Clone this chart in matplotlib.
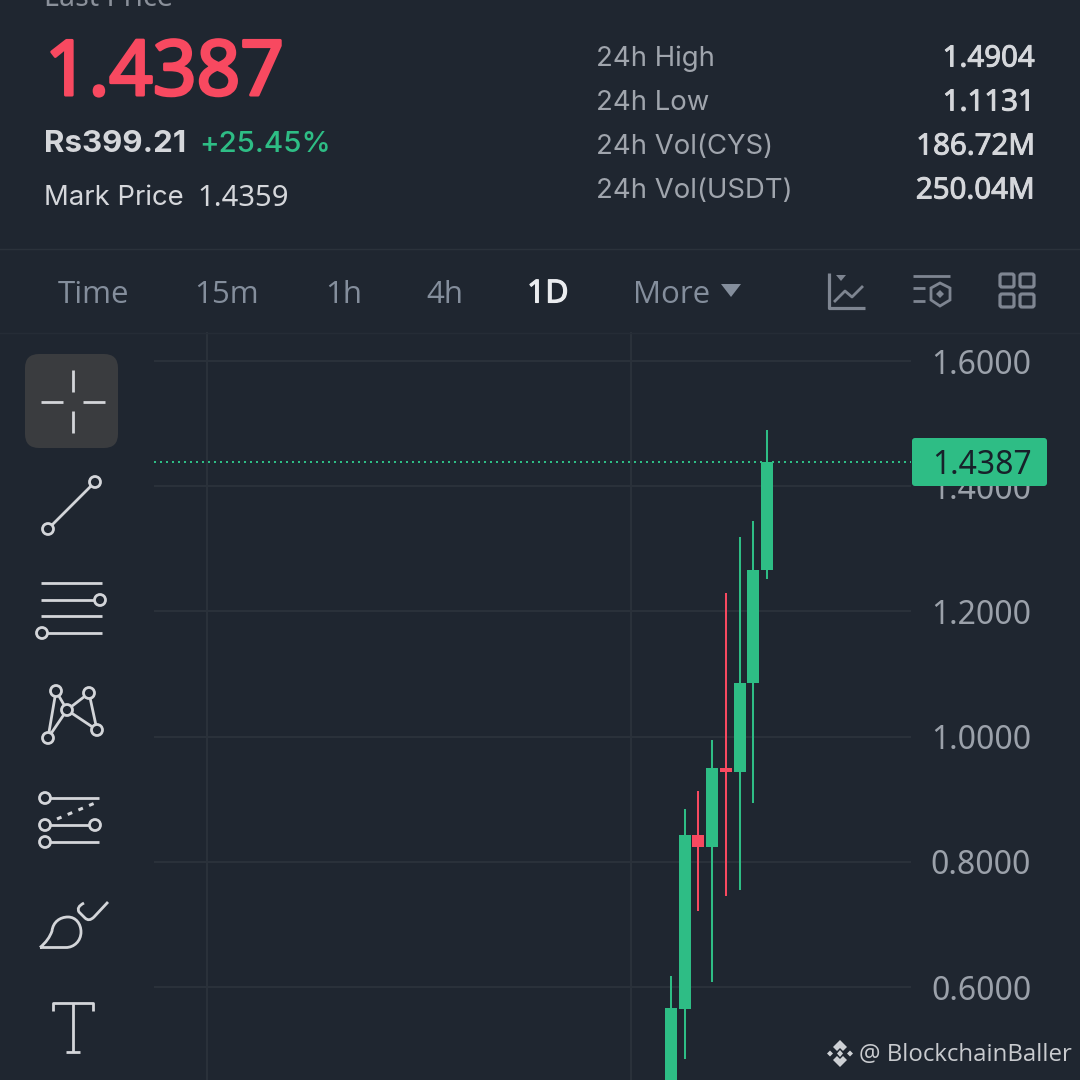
import matplotlib
matplotlib.use("Agg")
import matplotlib.pyplot as plt
import matplotlib.patheffects as pe
from matplotlib.patches import FancyBboxPatch, Circle, Polygon, PathPatch
from matplotlib.path import Path

BG = "#1F2630"; GREEN = "#2EBD85"; RED = "#F84960"; GRID = "#2B323B"
MUTED = "#848E9C"; LIGHT = "#D5D7DB"; WHITE = "#EAECEF"; ICON = "#D3D5D9"

# ---------- data ----------
day_index = [0, 1, 2, 3, 4, 5, 6, 7]
opens  = [0.4300, 0.5649, 0.8428, 0.8236, 0.9498, 0.9435, 1.0856, 1.2661]
closes = [0.5665, 0.8428, 0.8236, 0.9498, 0.9435, 1.0856, 1.2661, 1.4387]
highs  = [0.6176, 0.8843, 0.9131, 0.9946, 1.2294, 1.3188, 1.3444, 1.4904]
lows   = [0.4200, 0.4850, 0.7214, 0.6080, 0.7454, 0.7550, 0.8939, 1.2518]
y_ticks = [0.6, 0.8, 1.0, 1.2, 1.4, 1.6]
month_lines = [-33.84, -2.92]
last_price = 1.4387
tabs = ["Time", "15m", "1h", "4h", "1D", "More"]
stat_names = ["24h High", "24h Low", "24h Vol(CYS)", "24h Vol(USDT)"]
stat_values = ["1.4904", "1.1131", "186.72M", "250.04M"]

plt.rcParams["font.family"] = ["Noto Sans", "DejaVu Sans"]
fig = plt.figure(figsize=(10.8, 10.8), dpi=100, facecolor=BG)

# ---------- chart axes (pixel box 154..911 x 332..1080) ----------
W = 1080.0
ax = fig.add_axes([154 / W, 0, (911 - 154) / W, (1080 - 332) / W], zorder=1)
ax.set_facecolor(BG)
step = 13.71
ax.set_xlim((154 - 671) / step, (911 - 671) / step)
ax.set_ylim(1.6 - (1080 - 361) / 626.0, 1.6 + (361 - 332) / 626.0)
for s in ax.spines.values():
    s.set_visible(False)
ax.set_xticks([])
ax.set_yticks(y_ticks)
ax.set_yticklabels([f"{v:.4f}" for v in y_ticks], fontsize=23, color="#9BA1AA", ha="right")
ax.tick_params(axis="y", length=0, right=True, left=False, labelright=True, labelleft=False, pad=86.5)
for v in y_ticks:
    ax.axhline(v, color=GRID, lw=1.4, zorder=1)
for v in month_lines:
    ax.axvline(v, color=GRID, lw=1.4, zorder=1)
ax.axhline(last_price, color=GREEN, lw=1.44, ls=(0, (1, 2)), zorder=2)

for d, o, c, h, l in zip(day_index, opens, closes, highs, lows):
    col = GREEN if c >= o else RED
    ax.vlines(d, l, h, color=col, lw=1.45, zorder=3)
    ax.bar(d, abs(c - o), bottom=min(o, c), width=12 / step, color=col, zorder=4, linewidth=0)

# ---------- overlay in pixel coordinates ----------
ov = fig.add_axes([0, 0, 1, 1], zorder=2)
ov.set_xlim(0, 1080); ov.set_ylim(1080, 0); ov.axis("off"); ov.patch.set_alpha(0)

def T(x, y, s, size, color, ha="left", weight="normal", family="Noto Sans", stroke=0):
    t = ov.text(x, y, s, fontsize=size, color=color, ha=ha, va="center", fontweight=weight, family=family)
    if stroke:
        t.set_path_effects([pe.withStroke(linewidth=stroke, foreground=color)])

T(44, -2, "Last Price", 20.6, "#8A909A")
T(45, 75, "1.4387", 55, RED, stroke=2.2)
T(44, 144, "Rs399.21", 22.5, LIGHT, weight="bold", family="Inter")
T(199.5, 144, "+25.45%", 21.2, GREEN, weight="medium", family="Inter")
T(44, 198, "Mark Price", 19.8, LIGHT, family="Inter")
T(197, 198, "1.4359", 21, LIGHT)
for i, (n, v) in enumerate(zip(stat_names, stat_values)):
    y = 59 + 44 * i
    T(596, y, n, 19.8, "#A0A5AD", family="Inter")
    T(1035, y, v, 21.2, LIGHT, ha="right", stroke=0.7)

ov.plot([0, 1080], [248.5, 248.5], color=GRID, lw=1)
ov.plot([0, 1080], [332.5, 332.5], color="#252C36", lw=1)
tab_x = [58, 194, 325, 426, 527, 633]
for x, t in zip(tab_x, tabs):
    if t == "1D":
        T(x, 294, t, 23, WHITE, stroke=0.8)
    else:
        T(x, 295, t, 22.5, MUTED, family="Open Sans")
ov.add_patch(Polygon([[721, 284], [741, 284], [731, 297]], closed=True, color=MUTED, lw=0))

# top-right icons
ic = "#7E8591"
def L(xs, ys, color=ICON, lw=2.0, **k):
    ov.plot(xs, ys, color=color, lw=lw, solid_capstyle="butt", solid_joinstyle="round", **k)
L([829, 829, 865], [273, 308, 308], ic, 2.3)
L([834, 845, 852, 863], [302, 291, 297, 286], ic, 2)
ov.add_patch(Polygon([[836, 275], [846, 275], [841, 281]], closed=True, color=ic, lw=0))
L([913, 950], [276, 276], ic, 2)
L([913, 925], [288, 288], ic, 2); L([913, 925], [301, 301], ic, 2)
ov.add_patch(Polygon([[940, 283], [950, 288], [950, 300], [940, 306], [931, 300], [931, 288]],
                     closed=True, fill=False, ec=ic, lw=2))
ov.add_patch(Polygon([[940, 290], [944, 294], [940, 298], [936, 294]], closed=True, color=ic, lw=0))
for x, y in [(999, 273), (1019, 273), (999, 293), (1019, 293)]:
    ov.add_patch(FancyBboxPatch((x + 1, y + 1), 14, 13, boxstyle="round,pad=0,rounding_size=2",
                                fill=False, ec=ic, lw=2.3))

# left toolbar
ov.add_patch(FancyBboxPatch((25, 354), 93, 94, boxstyle="round,pad=0,rounding_size=14", fc="#3A3C3F", ec="none"))
L([72.8, 72.8], [370, 392]); L([72.8, 72.8], [411, 433]); L([41, 63], [401.5, 401.5]); L([83, 105], [401.5, 401.5])

def C(x, y, r=5.5):
    ov.add_patch(Circle((x, y), r, fc=BG, ec=ICON, lw=2.0, zorder=5))

L([48, 95], [529, 482]); C(48, 529); C(95, 482)
L([41, 102], [583, 583]); L([41, 100], [600, 600]); C(100, 600)
L([41, 102], [616, 616]); L([42, 102], [633, 633]); C(42, 633)
L([56, 48, 67, 89, 97], [691, 738, 710, 693, 730])
L([56, 67, 97], [691, 710, 730])
for p in [(56, 691), (89, 693), (67, 710), (48, 738), (97, 730)]:
    C(*p)
L([45, 99], [798, 798]); C(45, 798)
L([57, 95], [819, 803], lw=2.2, ls=(0, (1.6, 2.2)))
L([45, 95], [825, 825]); C(45, 825); C(95, 825)
L([45, 99], [842, 842]); C(45, 842)
brush = Path([(40, 947.5), (49, 940), (52, 931),
              (53, 922), (60, 917), (68, 917),
              (76, 917), (81, 924), (81, 932),
              (81, 941), (74, 947.5), (66, 947.5),
              (40, 947.5)],
             [1, 3, 3, 4, 4, 4, 4, 4, 4, 4, 4, 4, 2])
ov.add_patch(PathPatch(brush, fill=False, ec=ICON, lw=2.0))
hook = Path([(84, 903), (76, 907), (79, 912), (85, 918), (89, 922), (94, 917), (108, 902)],
            [1, 3, 3, 2, 3, 3, 2])
ov.add_patch(PathPatch(hook, fill=False, ec=ICON, lw=2.0))
L([53, 53, 93, 93], [1011, 1003, 1003, 1011]); L([73, 73], [1003, 1052]); L([66, 80], [1052, 1052])

# last price tag
ov.add_patch(FancyBboxPatch((912, 438), 135, 48, boxstyle="round,pad=0,rounding_size=3", fc=GREEN, ec="none", zorder=6))
ov.text(1031.5, 462, f"{last_price:.4f}", fontsize=23, color="#17212A", ha="right", va="center_baseline", zorder=7)

# watermark
for pts in ([[840, 1040], [847, 1047], [843, 1051], [840, 1048], [837, 1051], [833, 1047]],
            [[840, 1067], [847, 1060], [843, 1056], [840, 1059], [837, 1056], [833, 1060]],
            [[840, 1050], [843, 1053.5], [840, 1057], [837, 1053.5]],
            [[830, 1050.5], [833, 1053.5], [830, 1056.5], [827, 1053.5]],
            [[850, 1050.5], [853, 1053.5], [850, 1056.5], [847, 1053.5]]):
    ov.add_patch(Polygon(pts, closed=True, color="#CDD0D4", lw=0))
T(859, 1055, "@ BlockchainBaller", 17.3, "#C9CBCF", family="Open Sans")

fig.savefig("out.png", dpi=100, facecolor=BG)
